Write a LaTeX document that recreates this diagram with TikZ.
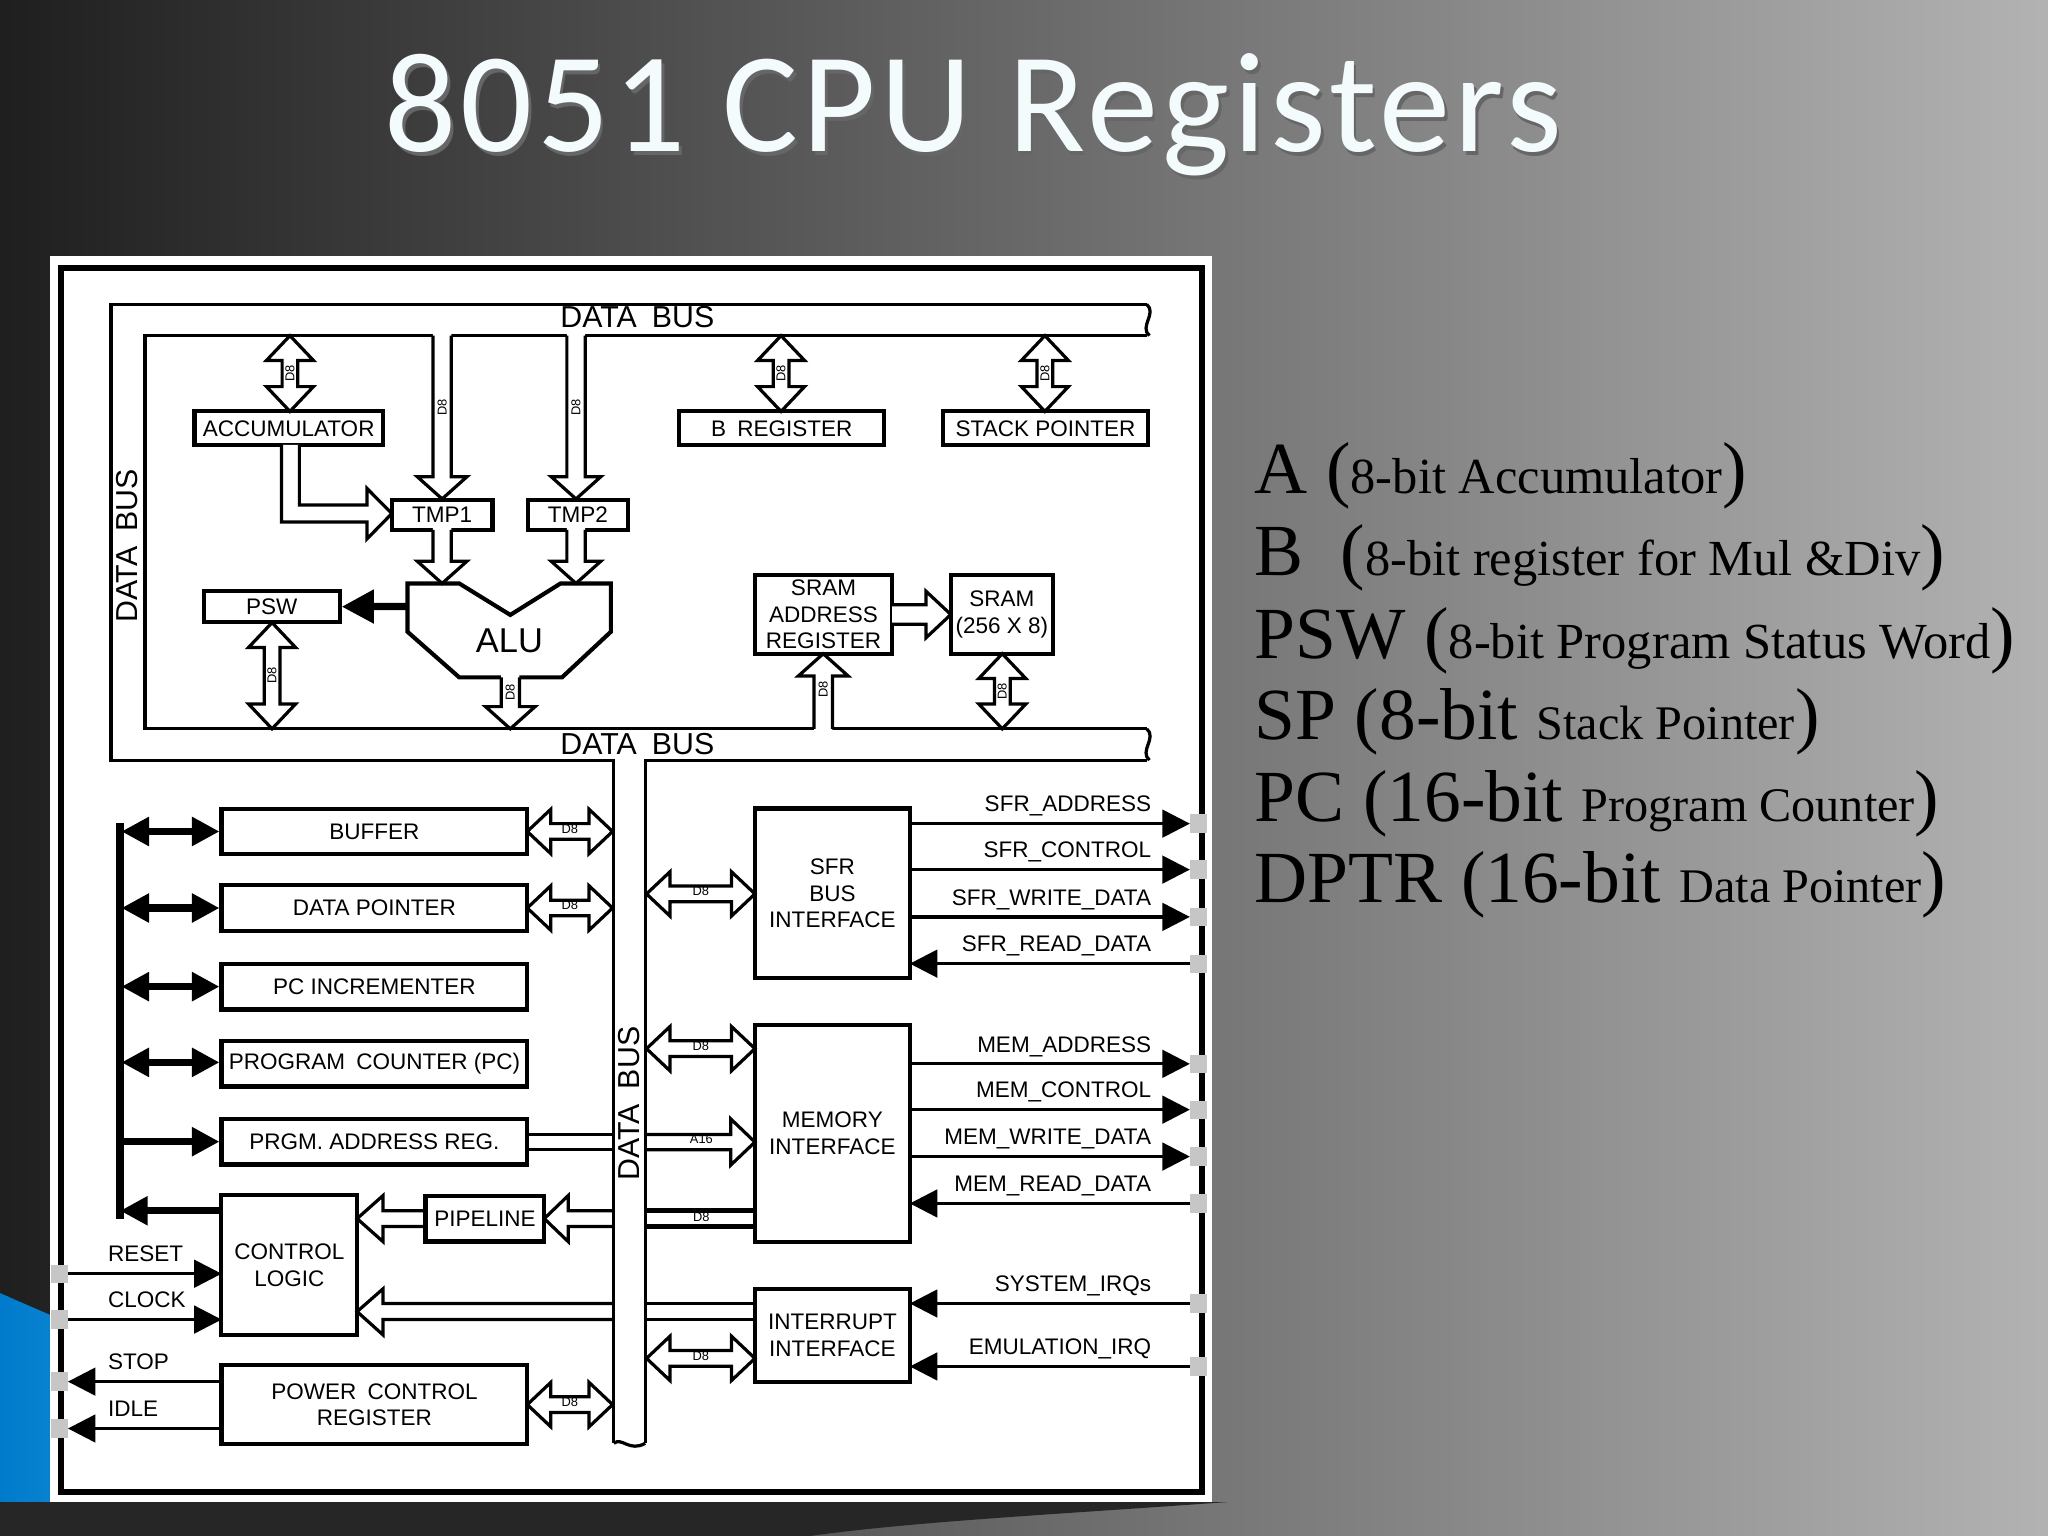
\documentclass[tikz,border=0pt]{standalone}
\usepackage{fontspec}
\usetikzlibrary{arrows.meta}
\setmainfont{Liberation Serif}
\newfontfamily\dsans{Liberation Sans}
\newfontfamily\ttlf{Carlito}[LetterSpace=3]
\begin{document}
\begin{tikzpicture}[x=0.01cm,y=-0.01cm,
 box/.style={draw=black,line width=0.9pt,fill=white,inner sep=0pt,font=\dsans\fontsize{4.9}{5.8}\selectfont,align=center},
 fatl/.style={draw=black,line width=0.7pt,line join=miter},
 thn/.style={draw=black,line width=0.7pt},
 thk/.style={draw=black,line width=1.6pt},
 lab/.style={font=\dsans\fontsize{4.9}{6}\selectfont,inner sep=0pt},
 dl/.style={font=\dsans\fontsize{2.8}{3}\selectfont,inner sep=0pt},
 bus/.style={font=\dsans\fontsize{6.6}{8}\selectfont,inner sep=0pt},
 pin/.style={fill=gray!45,draw=none},
]
\newcommand\DnArr[3]{\fill[white] ({#1-7},{#2-2}) -- ({#1-7},{#3-17}) -- ({#1-19},{#3-17}) -- (#1,#3) -- ({#1+19},{#3-17}) -- ({#1+7},{#3-17}) -- ({#1+7},{#2-2}) -- cycle;
 \draw[fatl] ({#1-7},#2) -- ({#1-7},{#3-17}) -- ({#1-19},{#3-17}) -- (#1,#3) -- ({#1+19},{#3-17}) -- ({#1+7},{#3-17}) -- ({#1+7},#2);}
\newcommand\UpArr[3]{\fill[white] ({#1-7},{#2+2}) -- ({#1-7},{#3+17}) -- ({#1-19},{#3+17}) -- (#1,#3) -- ({#1+19},{#3+17}) -- ({#1+7},{#3+17}) -- ({#1+7},{#2+2}) -- cycle;
 \draw[fatl] ({#1-7},#2) -- ({#1-7},{#3+17}) -- ({#1-19},{#3+17}) -- (#1,#3) -- ({#1+19},{#3+17}) -- ({#1+7},{#3+17}) -- ({#1+7},#2);}
\newcommand\VDbl[3]{\draw[fatl,fill=white] ({#1-6},{#2+19}) -- ({#1-18},{#2+19}) -- (#1,#2) -- ({#1+18},{#2+19}) -- ({#1+6},{#2+19}) -- ({#1+6},{#3-19}) -- ({#1+18},{#3-19}) -- (#1,#3) -- ({#1-18},{#3-19}) -- ({#1-6},{#3-19}) -- cycle;
 \node[dl,rotate=90] at (#1,{(#2+#3)/2}) {D8};}
\newcommand\HDbl[3]{\draw[fatl,fill=white] ({#2+18},{#1-6}) -- ({#2+18},{#1-17}) -- (#2,#1) -- ({#2+18},{#1+17}) -- ({#2+18},{#1+6}) -- ({#3-18},{#1+6}) -- ({#3-18},{#1+17}) -- (#3,#1) -- ({#3-18},{#1-17}) -- ({#3-18},{#1-6}) -- cycle;
 \node[dl] at ({(#2+#3)/2},{#1-2}) {D8};}
% background
\useasboundingbox (0,0) rectangle (1568,1176);
\shade[left color=black!88,right color=black!30] (0,0) rectangle (1568,1176);
\shade[left color=cyan!60!blue!80!black,right color=cyan!50] (0,990) .. controls (250,1100) and (400,1150) .. (620,1176) -- (0,1176) -- cycle;
\fill[black!85] (0,1176) -- (620,1176) .. controls (700,1165) and (800,1160) .. (940,1150) -- (0,1150) -- cycle;
% title
\node[font=\ttlf\fontsize{31}{36}\selectfont,text=black!60,inner sep=0pt] at (747,91) {8051 CPU Registers};
\node[font=\ttlf\fontsize{31}{36}\selectfont,text=gray!15!cyan!5,inner sep=0pt] (title) at (745,88) {8051 CPU Registers};
% right text
\node[anchor=base west,inner sep=0pt] (ta) at (960,378) {\fontsize{16}{18}\selectfont A (\fontsize{11}{13}\selectfont 8-bit Accumulator\fontsize{16}{18}\selectfont)};
\node[anchor=base west,inner sep=0pt] (tb) at (960,441) {\fontsize{16}{18}\selectfont B~~(\fontsize{11}{13}\selectfont 8-bit register for Mul \&Div\fontsize{16}{18}\selectfont)};
\node[anchor=base west,inner sep=0pt] (tp) at (960,504) {\fontsize{16}{18}\selectfont PSW (\fontsize{11}{13}\selectfont 8-bit Program Status Word\fontsize{16}{18}\selectfont)};
\node[anchor=base west,inner sep=0pt] (ts) at (960,566) {\fontsize{16}{18}\selectfont SP (8-bit \fontsize{10.5}{13}\selectfont Stack Pointer\fontsize{16}{18}\selectfont)};
\node[anchor=base west,inner sep=0pt] (tc) at (960,629) {\fontsize{16}{18}\selectfont PC (16-bit \fontsize{10.5}{13}\selectfont Program Counter\fontsize{16}{18}\selectfont)};
\node[anchor=base west,inner sep=0pt] (td) at (960,691) {\fontsize{16}{18}\selectfont DPTR (16-bit \fontsize{10.5}{13}\selectfont Data Pointer\fontsize{16}{18}\selectfont)};
% board
\fill[white] (38,196) rectangle (928,1150);
\draw[line width=1.3pt] (47,205) rectangle (920,1142);
% data bus outline
\draw[thn] (878,233) -- (85,233) -- (85,582) -- (470,582) -- (470,1105);
\draw[thn] (494,1105) -- (494,582) -- (878,582);
\draw[thn] (878,558) -- (111,558) -- (111,257) -- (878,257);
\draw[thn] (878,233) .. controls (886,240) and (872,250) .. (880,257);
\draw[thn] (878,558) .. controls (886,565) and (872,575) .. (880,582);
\draw[thn] (470,1105) .. controls (476,1100) and (482,1112) .. (494,1105);
\node[bus] at (488,243) {DATA\enspace BUS};
\node[bus] at (488,570) {DATA\enspace BUS};
\node[bus,rotate=90] at (97,418) {DATA\enspace BUS};
\node[bus,rotate=90] at (482,845) {DATA\enspace BUS};
% top blocks
\node[box,minimum width=1.44cm,minimum height=0.26cm] (acc) at (221,328) {ACCUMULATOR};
\node[box,minimum width=1.57cm,minimum height=0.26cm] (breg) at (598.5,328) {B\enspace REGISTER};
\node[box,minimum width=1.57cm,minimum height=0.26cm] (sp) at (800.5,328) {STACK POINTER};
\node[box,minimum width=0.77cm,minimum height=0.23cm] (tmp1) at (338.5,394) {TMP1};
\node[box,minimum width=0.77cm,minimum height=0.23cm] (tmp2) at (442.5,394) {TMP2};
\node[box,minimum width=1.04cm,minimum height=0.24cm] (psw) at (208,464.5) {PSW};
\node[box,minimum width=1.05cm,minimum height=0.60cm] (sar) at (630.5,470.5) {SRAM\\ADDRESS\\REGISTER};
\node[box,minimum width=0.78cm,minimum height=0.60cm] (sram) at (767,470.5) {SRAM\\(256 X 8)};
\draw[line width=0.9pt,fill=white] (312,446.7) -- (351.6,446.7) -- (390.7,470.8) -- (429.2,446.7) -- (467.7,446.7) -- (467.7,483.7) -- (430.3,518.6) -- (351.6,518.6) -- (312,483.7) -- cycle;
\node[font=\dsans\fontsize{7.5}{8}\selectfont] (alu) at (390,491) {ALU};
% top arrows
\VDbl{222}{257}{315}
\VDbl{598}{257}{315}
\VDbl{800}{257}{315}
\DnArr{338.5}{257}{382}
\DnArr{441}{257}{382}
\node[dl,rotate=90] at (338.5,312) {D8};
\node[dl,rotate=90] at (441,312) {D8};
\DnArr{338.5}{405.6}{446.7}
\DnArr{441}{405.6}{446.7}
\draw[fatl,fill=white] (215.6,340.7) -- (215.6,399.6) -- (281,399.6) -- (281,412.6) -- (300,393.2) -- (281,374) -- (281,386.7) -- (229.2,386.7) -- (229.2,340.7);
\draw[thk,-{Triangle[length=7pt,width=7pt]}] (312,464.3) -- (psw.east);
\VDbl{208.3}{476.7}{558}
\DnArr{390.7}{518.6}{558}
\node[dl,rotate=90] at (390.7,530) {D8};
\UpArr{630.3}{558}{500.5}
\node[dl,rotate=90] at (630.3,528) {D8};
\VDbl{767.4}{500.5}{558}
\draw[fatl,fill=white] (683,463) -- (709,463) -- (709,452.7) -- (728,470.5) -- (709,488.3) -- (709,478) -- (683,478);
% lower left blocks
\node[box,minimum width=2.34cm,minimum height=0.35cm] (buf) at (286.7,636.6) {BUFFER};
\node[box,minimum width=2.34cm,minimum height=0.35cm] (dp) at (286.7,695.2) {DATA POINTER};
\node[box,minimum width=2.34cm,minimum height=0.35cm] (pci) at (286.7,755.4) {PC INCREMENTER};
\node[box,minimum width=2.34cm,minimum height=0.35cm] (pc) at (286.7,814.3) {PROGRAM\enspace COUNTER (PC)};
\node[box,minimum width=2.34cm,minimum height=0.35cm] (par) at (286.7,874.1) {PRGM. ADDRESS REG.};
\node[box,minimum width=1.04cm,minimum height=1.07cm] (cl) at (221.5,968.7) {CONTROL\\LOGIC};
\node[box,minimum width=0.91cm,minimum height=0.35cm] (pipe) at (371.3,933) {PIPELINE};
\node[box,minimum width=2.34cm,minimum height=0.60cm] (pcr) at (286.7,1075.4) {POWER\enspace CONTROL\\REGISTER};
% left control line
\draw[thk] (92,630) -- (92,933);
\foreach \yy/\bb in {636.6/buf,695.2/dp,755.4/pci,813.4/pc}
  \draw[thk,{Triangle[length=6pt,width=6pt]}-{Triangle[length=6pt,width=6pt]}] (93,\yy) -- (\bb.west |- 0,\yy);
\draw[thk,-{Triangle[length=6pt,width=6pt]}] (92,874.1) -- (par.west);
\draw[thk,-{Triangle[length=6pt,width=6pt]}] (cl.north west |- 0,927) -- (92,927);
% small D8 arrows to bus
\HDbl{636.6}{403.7}{469}
\HDbl{695.2}{403.7}{469}
\HDbl{1075.4}{403.7}{469}
% right blocks
\node[box,minimum width=1.186cm,minimum height=1.30cm] (sfr) at (637.3,684) {SFR\\BUS\\INTERFACE};
\node[box,minimum width=1.186cm,minimum height=1.66cm] (mem) at (637.3,867.6) {MEMORY\\INTERFACE};
\node[box,minimum width=1.186cm,minimum height=0.71cm] (intr) at (637.3,1022.3) {INTERRUPT\\INTERFACE};
\HDbl{684.4}{495}{578}
\HDbl{802.9}{495}{578}
\HDbl{1040}{495}{578}
% PRGM -> MEM
\draw[thn] (403.7,868.6) -- (470,868.6) (403.7,880.2) -- (470,880.2);
\draw[fatl] (494,868.6) -- (559.5,868.6) -- (559.5,856.7) -- (578,874.4) -- (559.5,892) -- (559.5,880.2) -- (494,880.2);
\node[dl] at (537,872) {A16};
% MEM -> PIPELINE -> CL
\draw[line width=1.1pt] (494,927) -- (578,927) (494,939) -- (578,939);
\node[dl] at (537,932) {D8};
\draw[fatl] (470,927) -- (435,927) -- (435,915.4) -- (416.7,933) -- (435,950.6) -- (435,939) -- (470,939);
\draw[fatl] (326,927) -- (293.2,927) -- (293.2,915.4) -- (273.4,933) -- (293.2,950.6) -- (293.2,939) -- (326,939);
% INT -> CL
\draw[thn] (494,998) -- (578,998) (494,1010.3) -- (578,1010.3);
\draw[fatl] (470,998) -- (293.2,998) -- (293.2,986.8) -- (273.4,1004.2) -- (293.2,1022) -- (293.2,1010.3) -- (470,1010.3);
% right signals
\foreach \yy/\tt in {630.6/SFR\_ADDRESS,665.8/SFR\_CONTROL,702/SFR\_WRITE\_DATA,737.8/SFR\_READ\_DATA,814.5/MEM\_ADDRESS,849.6/MEM\_CONTROL,885.5/MEM\_WRITE\_DATA,921.4/MEM\_READ\_DATA,998/SYSTEM\_IRQs,1046.2/EMULATION\_IRQ}{
  \fill[pin] (911,{\yy-7}) rectangle (924,{\yy+7});
  \node[lab,anchor=base east] at (882,{\yy-9}) {\tt};
}
\foreach \yy in {630.6,665.8,702,814.5,849.6,885.5}
  \draw[thn,-{Triangle[length=6pt,width=6pt]}] (696.6,\yy) -- (911,\yy);
\foreach \yy in {737.8,921.4,998,1046.2}
  \draw[thn,-{Triangle[length=6pt,width=6pt]}] (911,\yy) -- (696.6,\yy);
% left signals
\foreach \yy/\tt in {975.2/RESET,1010.3/CLOCK,1057.8/STOP,1093.7/IDLE}{
  \fill[pin] (39,{\yy-7}) rectangle (52,{\yy+7});
  \node[lab,anchor=base west] at (82,{\yy-9}) {\tt};
}
\draw[thn,-{Triangle[length=6pt,width=6pt]}] (52,975.2) -- (169.7,975.2);
\draw[thn,-{Triangle[length=6pt,width=6pt]}] (52,1010.3) -- (169.7,1010.3);
\draw[thn,-{Triangle[length=6pt,width=6pt]}] (169.7,1057.8) -- (52,1057.8);
\draw[thn,-{Triangle[length=6pt,width=6pt]}] (169.7,1093.7) -- (52,1093.7);
\end{tikzpicture}
\end{document}
